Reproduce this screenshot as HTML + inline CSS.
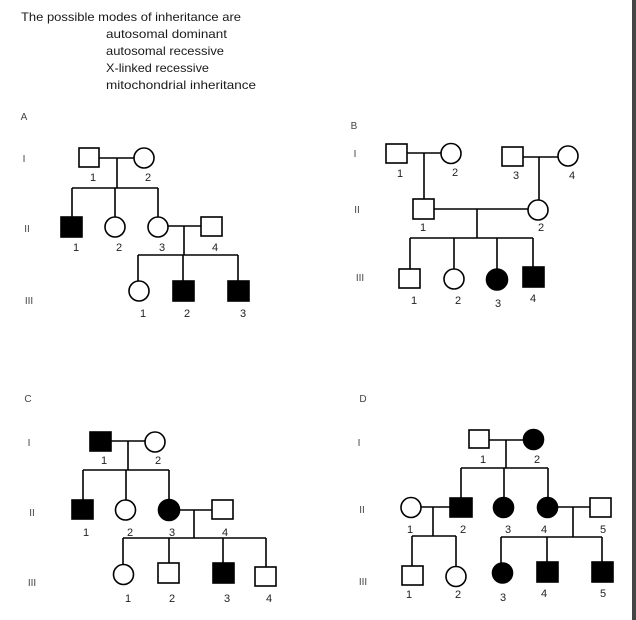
<!DOCTYPE html>
<html><head><meta charset="utf-8"><style>
html,body{margin:0;padding:0;background:#fff;}
svg{display:block;}
.t{font-family:"Liberation Sans",Arial,sans-serif;font-size:12px;fill:#1a1a1a;}
.n{font-family:"Liberation Sans",Arial,sans-serif;font-size:11px;fill:#222;text-anchor:middle;}
.g{font-family:"Liberation Sans",Arial,sans-serif;font-size:10px;fill:#444;text-anchor:middle;}
</style></head><body>
<svg width="636" height="620" viewBox="0 0 636 620" xmlns="http://www.w3.org/2000/svg">
<rect width="636" height="620" fill="#fff"/>
<rect x="632" y="0" width="4" height="620" fill="#454545"/>

<text class="t" x="21" y="21" textLength="220" lengthAdjust="spacingAndGlyphs">The possible modes of inheritance are</text>
<text class="t" x="106" y="38" textLength="121" lengthAdjust="spacingAndGlyphs">autosomal dominant</text>
<text class="t" x="106" y="55" textLength="118" lengthAdjust="spacingAndGlyphs">autosomal recessive</text>
<text class="t" x="106" y="72" textLength="103" lengthAdjust="spacingAndGlyphs">X-linked recessive</text>
<text class="t" x="106" y="89" textLength="150" lengthAdjust="spacingAndGlyphs">mitochondrial inheritance</text>

<g stroke="#000" stroke-width="1.6" fill="none">
<!-- A -->
<line x1="99" y1="158" x2="134" y2="158"/>
<line x1="117" y1="158" x2="117" y2="188"/>
<line x1="72" y1="188" x2="158" y2="188"/>
<line x1="72" y1="188" x2="72" y2="217"/>
<line x1="115" y1="188" x2="115" y2="217"/>
<line x1="158" y1="188" x2="158" y2="217"/>
<line x1="168" y1="226" x2="201" y2="226"/>
<line x1="184" y1="226" x2="184" y2="255"/>
<line x1="138" y1="255" x2="238" y2="255"/>
<line x1="138" y1="255" x2="138" y2="281"/>
<line x1="183" y1="255" x2="183" y2="281"/>
<line x1="238" y1="255" x2="238" y2="281"/>
<rect x="79" y="148" width="20" height="19" fill="#fff"/>
<circle cx="144" cy="158" r="10" fill="#fff"/>
<rect x="61" y="217" width="21" height="20" fill="#000"/>
<circle cx="115" cy="227" r="10" fill="#fff"/>
<circle cx="158" cy="227" r="10" fill="#fff"/>
<rect x="201" y="217" width="21" height="19" fill="#fff"/>
<circle cx="139" cy="291" r="10" fill="#fff"/>
<rect x="173" y="281" width="21" height="20" fill="#000"/>
<rect x="228" y="281" width="21" height="20" fill="#000"/>

<!-- B -->
<line x1="407" y1="153" x2="441" y2="153"/>
<line x1="424" y1="153" x2="424" y2="199"/>
<line x1="523" y1="157" x2="558" y2="157"/>
<line x1="539" y1="157" x2="539" y2="200"/>
<line x1="434" y1="209" x2="528" y2="209"/>
<line x1="477" y1="209" x2="477" y2="238"/>
<line x1="410" y1="238" x2="533" y2="238"/>
<line x1="410" y1="238" x2="410" y2="269"/>
<line x1="454" y1="238" x2="454" y2="269"/>
<line x1="497" y1="238" x2="497" y2="269"/>
<line x1="533" y1="238" x2="533" y2="267"/>
<rect x="386" y="144" width="21" height="19" fill="#fff"/>
<circle cx="451" cy="153.5" r="10" fill="#fff"/>
<rect x="413" y="199" width="21" height="20" fill="#fff"/>
<rect x="502" y="147" width="21" height="19" fill="#fff"/>
<circle cx="568" cy="156" r="10" fill="#fff"/>
<circle cx="538" cy="210" r="10" fill="#fff"/>
<rect x="399" y="269" width="21" height="19" fill="#fff"/>
<circle cx="454" cy="279" r="10" fill="#fff"/>
<circle cx="497" cy="279.5" r="10.5" fill="#000"/>
<rect x="523" y="267" width="21" height="20" fill="#000"/>

<!-- C -->
<line x1="111" y1="441" x2="145" y2="441"/>
<line x1="128" y1="441" x2="128" y2="470"/>
<line x1="83" y1="470" x2="169" y2="470"/>
<line x1="83" y1="470" x2="83" y2="500"/>
<line x1="126" y1="470" x2="126" y2="500"/>
<line x1="169" y1="470" x2="169" y2="500"/>
<line x1="180" y1="510" x2="212" y2="510"/>
<line x1="194" y1="510" x2="194" y2="538"/>
<line x1="123" y1="538" x2="266" y2="538"/>
<line x1="123" y1="538" x2="123" y2="564"/>
<line x1="169" y1="538" x2="169" y2="563"/>
<line x1="223" y1="538" x2="223" y2="563"/>
<line x1="266" y1="538" x2="266" y2="567"/>
<rect x="90" y="432" width="21" height="19" fill="#000"/>
<circle cx="155" cy="442" r="10" fill="#fff"/>
<rect x="72" y="500" width="21" height="19" fill="#000"/>
<circle cx="125.5" cy="510" r="10" fill="#fff"/>
<circle cx="169" cy="510" r="10.5" fill="#000"/>
<rect x="212" y="500" width="21" height="19" fill="#fff"/>
<circle cx="123.5" cy="574.5" r="10" fill="#fff"/>
<rect x="158" y="563" width="21" height="20" fill="#fff"/>
<rect x="213" y="563" width="21" height="20" fill="#000"/>
<rect x="255" y="567" width="21" height="19" fill="#fff"/>

<!-- D -->
<line x1="489" y1="440" x2="523" y2="440"/>
<line x1="506" y1="440" x2="506" y2="468"/>
<line x1="461" y1="468" x2="548" y2="468"/>
<line x1="461" y1="468" x2="461" y2="498"/>
<line x1="504" y1="468" x2="504" y2="498"/>
<line x1="548" y1="468" x2="548" y2="498"/>
<line x1="421" y1="507" x2="450" y2="507"/>
<line x1="433" y1="507" x2="433" y2="536"/>
<line x1="412" y1="536" x2="456" y2="536"/>
<line x1="412" y1="536" x2="412" y2="566"/>
<line x1="456" y1="536" x2="456" y2="566"/>
<line x1="558" y1="507" x2="590" y2="507"/>
<line x1="573" y1="507" x2="573" y2="537"/>
<line x1="501" y1="537" x2="602" y2="537"/>
<line x1="501" y1="537" x2="501" y2="563"/>
<line x1="547" y1="537" x2="547" y2="562"/>
<line x1="602" y1="537" x2="602" y2="562"/>
<rect x="469" y="430" width="20" height="18" fill="#fff"/>
<circle cx="533.5" cy="439.5" r="10" fill="#000"/>
<circle cx="411" cy="507.5" r="10" fill="#fff"/>
<rect x="450" y="498" width="22" height="19" fill="#000"/>
<circle cx="503.5" cy="507.5" r="10" fill="#000"/>
<circle cx="547.5" cy="507.5" r="10" fill="#000"/>
<rect x="590" y="498" width="21" height="19" fill="#fff"/>
<rect x="402" y="566" width="21" height="19" fill="#fff"/>
<circle cx="456" cy="576.5" r="10" fill="#fff"/>
<circle cx="502.5" cy="573" r="10" fill="#000"/>
<rect x="537" y="562" width="21" height="20" fill="#000"/>
<rect x="592" y="562" width="21" height="20" fill="#000"/>
</g>

<!-- panel letters & generation labels -->
<text class="g" x="24" y="120">A</text>
<text class="g" x="24" y="162">I</text>
<text class="g" x="27" y="232">II</text>
<text class="g" x="29" y="304">III</text>

<text class="g" x="354" y="129">B</text>
<text class="g" x="355" y="157">I</text>
<text class="g" x="357" y="213">II</text>
<text class="g" x="360" y="281">III</text>

<text class="g" x="28" y="402">C</text>
<text class="g" x="29" y="446">I</text>
<text class="g" x="32" y="516">II</text>
<text class="g" x="32" y="586">III</text>

<text class="g" x="363" y="402">D</text>
<text class="g" x="359" y="446">I</text>
<text class="g" x="362" y="513">II</text>
<text class="g" x="363" y="585">III</text>

<!-- A numbers -->
<text class="n" x="93" y="181">1</text>
<text class="n" x="148" y="181">2</text>
<text class="n" x="76" y="251">1</text>
<text class="n" x="119" y="251">2</text>
<text class="n" x="162" y="251">3</text>
<text class="n" x="215" y="251">4</text>
<text class="n" x="143" y="317">1</text>
<text class="n" x="187" y="317">2</text>
<text class="n" x="243" y="317">3</text>

<!-- B numbers -->
<text class="n" x="400" y="177">1</text>
<text class="n" x="455" y="176">2</text>
<text class="n" x="516" y="179">3</text>
<text class="n" x="572" y="179">4</text>
<text class="n" x="423" y="231">1</text>
<text class="n" x="541" y="231">2</text>
<text class="n" x="414" y="304">1</text>
<text class="n" x="458" y="304">2</text>
<text class="n" x="498" y="307">3</text>
<text class="n" x="533" y="302">4</text>

<!-- C numbers -->
<text class="n" x="104" y="464">1</text>
<text class="n" x="158" y="464">2</text>
<text class="n" x="86" y="536">1</text>
<text class="n" x="130" y="536">2</text>
<text class="n" x="172" y="536">3</text>
<text class="n" x="225" y="536">4</text>
<text class="n" x="128" y="602">1</text>
<text class="n" x="172" y="602">2</text>
<text class="n" x="227" y="602">3</text>
<text class="n" x="269" y="602">4</text>

<!-- D numbers -->
<text class="n" x="483" y="463">1</text>
<text class="n" x="537" y="463">2</text>
<text class="n" x="410" y="533">1</text>
<text class="n" x="463" y="533">2</text>
<text class="n" x="508" y="533">3</text>
<text class="n" x="544" y="533">4</text>
<text class="n" x="603" y="533">5</text>
<text class="n" x="409" y="598">1</text>
<text class="n" x="458" y="598">2</text>
<text class="n" x="503" y="601">3</text>
<text class="n" x="544" y="597">4</text>
<text class="n" x="603" y="597">5</text>
</svg>
</body></html>
